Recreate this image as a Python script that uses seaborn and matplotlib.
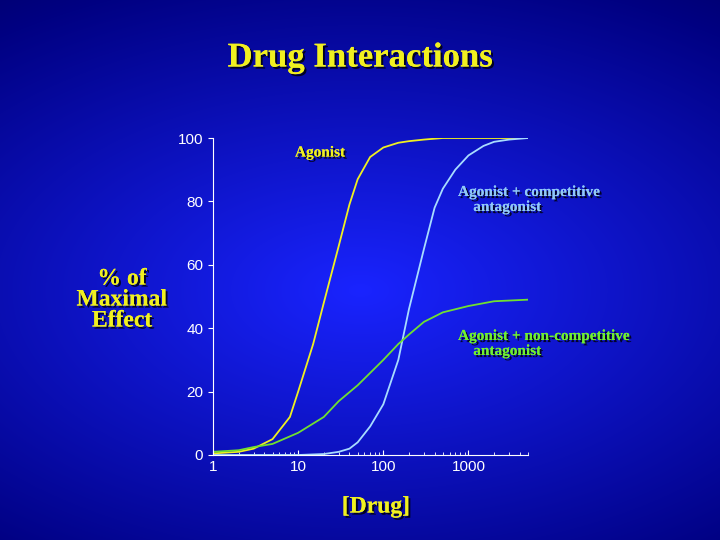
import numpy as np
import pandas as pd
import matplotlib
matplotlib.use("Agg")
import matplotlib.pyplot as plt
import matplotlib.patheffects as pe
import seaborn as sns

ag_x = [1, 2, 3, 5, 8, 10, 15, 20, 30, 40, 50, 70, 100, 150, 200, 300, 500, 1000, 5000]
ag_y = [0.5, 1, 2, 5, 12, 20, 35, 48, 66, 79, 87, 94, 97, 98.5, 99, 99.5, 100, 100, 100]
comp_x = [1, 10, 20, 30, 40, 50, 70, 100, 150, 200, 300, 400, 500, 700, 1000, 1500, 2000, 3000, 5000]
comp_y = [0, 0, 0.3, 1, 2, 4, 9, 16, 30, 46, 65, 78, 84, 90, 94.5, 97.5, 98.8, 99.5, 100]
nc_x = [1, 2, 3, 5, 10, 20, 30, 50, 100, 150, 200, 300, 500, 1000, 2000, 5000]
nc_y = [1, 1.5, 2.5, 3.5, 7, 12, 17, 22, 30, 35, 38, 42, 45, 47, 48.5, 49]
y_ticks = [0, 20, 40, 60, 80, 100]
x_ticks = [1, 10, 100, 1000]

df = pd.concat([
    pd.DataFrame({"x": ag_x, "y": ag_y, "s": "Agonist"}),
    pd.DataFrame({"x": comp_x, "y": comp_y, "s": "comp"}),
    pd.DataFrame({"x": nc_x, "y": nc_y, "s": "nc"}),
])
palette = {"Agonist": "#f0f020", "comp": "#a8dcff", "nc": "#70e030"}

fig = plt.figure(figsize=(7.2, 5.4), dpi=100)
bg = fig.add_axes([0, 0, 1, 1])
yy, xx = np.mgrid[0:540, 0:720]
d = np.sqrt(((xx - 360) / 600) ** 2 + ((yy - 290) / 330) ** 2)
img = np.zeros((540, 720, 3))
img[..., 2] = np.clip(1.0 - 0.5 * d, 0.25, 1)
img[..., 1] = np.clip(0.14 - 0.14 * d, 0, 1)
img[..., 0] = np.clip(0.1 - 0.1 * d, 0, 1)
bg.imshow(img, aspect="auto")
bg.axis("off")

ax = fig.add_axes([213 / 720, 1 - 455 / 540, 315 / 720, 317 / 540])
ax.patch.set_alpha(0)
sns.lineplot(data=df, x="x", y="y", hue="s", palette=palette, ax=ax, legend=False, linewidth=1.3)
ax.set_xscale("log")
ax.set_xlim(1, 5000)
ax.set_ylim(0, 100)
ax.set_yticks(y_ticks)
ax.set_xticks(x_ticks)
ax.set_xticklabels([str(v) for v in x_ticks])
for s in ["top", "right"]:
    ax.spines[s].set_visible(False)
for s in ["left", "bottom"]:
    ax.spines[s].set_color("white")
ax.tick_params(colors="white", labelsize=11, which="both", direction="in")
ax.tick_params(axis="y", direction="out")
for lab in ax.get_xticklabels() + ax.get_yticklabels():
    lab.set_family("Liberation Sans")
ax.set_xlabel("")
ax.set_ylabel("")

shadow = [pe.withSimplePatchShadow(offset=(1.5, -1.5), shadow_rgbFace="black", alpha=0.8), pe.Normal()]
serif = "Liberation Serif"
fig.text(0.5, 1 - 58 / 540, "Drug Interactions", color="#f0f020", fontsize=25, fontweight="bold",
         family=serif, ha="center", va="center", path_effects=shadow)
fig.text(376 / 720, 1 - 507 / 540, "[Drug]", color="#f0f020", fontsize=17, fontweight="bold",
         family=serif, ha="center", va="center", path_effects=shadow)
fig.text(122 / 720, 1 - 300 / 540, "% of\nMaximal\nEffect", color="#f0f020", fontsize=17,
         fontweight="bold", family=serif, ha="center", va="center", linespacing=1.0, path_effects=shadow)
fig.text(295 / 720, 1 - 153 / 540, "Agonist", color="#f0f020", fontsize=11, fontweight="bold",
         family=serif, ha="left", va="center", path_effects=shadow)
fig.text(458 / 720, 1 - 200 / 540, "Agonist + competitive\n    antagonist", color="#90c8f8",
         fontsize=11, fontweight="bold", family=serif, ha="left", va="center", path_effects=shadow)
fig.text(458 / 720, 1 - 344 / 540, "Agonist + non-competitive\n    antagonist", color="#70f030",
         fontsize=11, fontweight="bold", family=serif, ha="left", va="center", path_effects=shadow)
fig.savefig("out.png", dpi=100)
